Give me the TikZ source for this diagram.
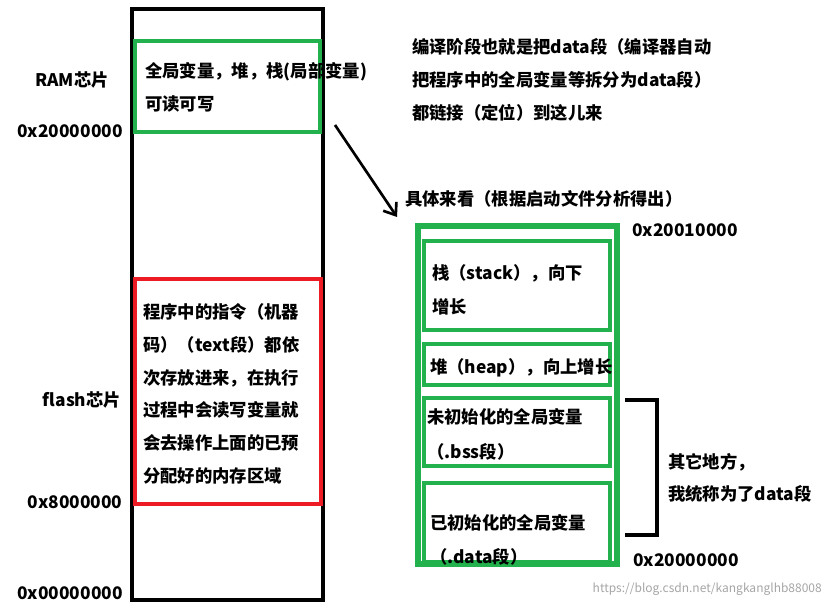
\documentclass[tikz,border=0pt]{standalone}
\usepackage{fontspec}
\setmainfont{Noto Sans CJK SC}
\usetikzlibrary{arrows.meta}
\definecolor{gb}{RGB}{34,177,76}
\definecolor{rb}{RGB}{237,28,36}
\tikzset{t/.style={anchor=west,inner sep=0pt,font=\bfseries\fontsize{13pt}{15pt}\selectfont},
 c/.style={t,anchor=center},
 gbox/.style={draw=gb,line width=3pt},
 blk/.style={draw=black,line width=2.5pt}}
\begin{document}
\begin{tikzpicture}[x=0.75pt,y=-0.75pt]
\useasboundingbox[fill=white] (0,0) rectangle (832,605);
\draw[blk] (132,9) rectangle (323,600);
\draw[gbox] (135,41) rectangle (320,132);
\node[t] (g1) at (145,72) {全局变量，堆，栈(局部变量)};
\node[t] (g2) at (145,104) {可读可写};
\draw[draw=rb,line width=3pt] (135,279) rectangle (321,504);
\node[t] at (143,312) {程序中的指令（机器};
\node[t] at (143,345) {码）（text段）都依};
\node[t] at (143,378) {次存放进来，在执行};
\node[t] at (143,410) {过程中会读写变量就};
\node[t] at (143,443) {会去操作上面的已预};
\node[t] at (143,476) {分配好的内存区域};
\node[c] (ram) at (72,80) {RAM芯片};
\node[c] at (70,131) {0x20000000};
\node[c] at (82,400) {flash芯片};
\node[c] at (75,502) {0x8000000};
\node[c] at (70,593) {0x00000000};
\node[t] at (412,47) {编译阶段也就是把data段（编译器自动};
\node[t] at (412,80) {把程序中的全局变量等拆分为data段）};
\node[t] at (412,113) {都链接（定位）到这儿来};
\coordinate (a1) at (335,125);
\coordinate (a2) at (397,217);
\draw[line width=2pt,-{Straight Barb[length=8pt,width=12pt]}] (a1) -- (a2);
\node[t] at (405,199) {具体来看（根据启动文件分析得出）};
\draw[gbox,line width=4pt] (418,226) rectangle (617,564);
\node[c] at (685,230) {0x20010000};
\draw[gbox] (424,241) rectangle (610,330);
\node[t] at (432,273) {栈（stack），向下};
\node[t] at (432,307) {增长};
\draw[gbox] (424,344) rectangle (610,385);
\node[t] at (430,368) {堆（heap），向上增长};
\draw[gbox] (424,398) rectangle (610,466);
\node[t] at (427,417) {未初始化的全局变量};
\node[t] at (427,452) {（.bss段）};
\draw[gbox] (424,483) rectangle (610,562);
\node[t] at (430,523) {已初始化的全局变量};
\node[t] at (430,557) {（.data段）};
\draw[line width=2.5pt] (625,400) -- (657,400) -- (657,535) -- (625,535);
\node[t] at (668,462) {其它地方，};
\node[t] at (668,494) {我统称为了data段};
\node[c] at (686,560) {0x20000000};
\node[anchor=east,inner sep=0pt,text=gray!70,font=\fontsize{9pt}{10pt}\selectfont] at (822,589) {https://blog.csdn.net/kangkanglhb88008};
\end{tikzpicture}
\end{document}
